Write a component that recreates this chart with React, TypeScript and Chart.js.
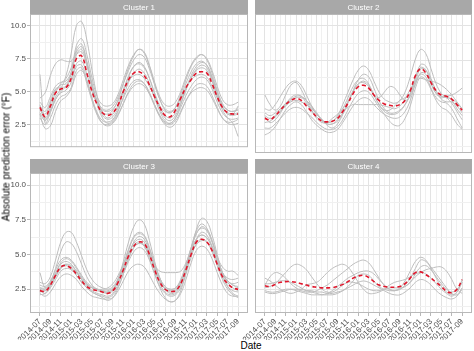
import React, { useEffect, useRef } from 'react';
import { Chart, registerables } from 'chart.js';

Chart.register(...registerables);

// ---------- data ----------
const MONTHS = [
  '2014-07','2014-08','2014-09','2014-10','2014-11','2014-12',
  '2015-01','2015-02','2015-03','2015-04','2015-05','2015-06','2015-07','2015-08','2015-09','2015-10','2015-11','2015-12',
  '2016-01','2016-02','2016-03','2016-04','2016-05','2016-06','2016-07','2016-08','2016-09','2016-10','2016-11','2016-12',
  '2017-01','2017-02','2017-03','2017-04','2017-05','2017-06','2017-07','2017-08','2017-09',
];

const X_TICK_LABELS = [
  '2014-07','2014-09','2014-11','2015-01','2015-03','2015-05','2015-07','2015-09','2015-11',
  '2016-01','2016-03','2016-05','2016-07','2016-09','2016-11','2017-01','2017-03','2017-05','2017-07','2017-09',
];

const Y_TICKS = [2.5, 5.0, 7.5, 10.0];
const Y_MINOR = [1.25, 3.75, 6.25, 8.75];

const C1_MEAN = [3.8,3.1,3.9,4.9,5.2,5.3, 6.0,7.5,7.7,6.4,5.0,4.0,3.4,3.2,3.4,4.0,5.0,5.9, 6.4,6.5,6.2,5.5,4.6,3.8,3.2,3.1,3.6,4.5,5.3,5.9, 6.4,6.5,6.4,5.6,4.6,3.8,3.4,3.3,3.3];
const C1_L1 = [4.0,2.9,3.6,4.6,5.2,6.2, 7.9,10.0,10.3,8.9,6.6,4.6,3.4,3.0,3.3,4.0,5.1,6.2, 6.9,7.1,6.8,6.0,4.9,3.9,3.2,3.0,3.4,4.3,5.2,6.0, 6.6,6.8,6.6,5.8,4.7,3.8,3.3,3.2,3.3];
const C1_L2 = [6.3,2.6,3.4,4.4,5.0,5.4, 6.3,7.8,8.2,7.0,5.3,4.0,3.0,2.6,2.8,3.5,4.6,5.7, 6.4,6.7,6.4,5.6,4.5,3.5,2.8,2.6,3.0,4.0,5.1,6.0, 6.7,7.0,6.8,5.9,4.6,3.6,3.0,2.6,1.6];
const C1_L3 = [4.5,4.9,6.2,7.1,7.4,7.3, 7.3,7.8,8.0,7.0,5.5,4.3,3.7,3.6,3.9,4.6,5.6,6.6, 7.4,7.8,7.6,6.7,5.5,4.4,3.7,3.5,3.8,4.6,5.6,6.5, 7.1,7.3,7.0,6.1,4.9,4.0,3.6,3.5,3.6];
const C1_L4 = [3.3,2.2,2.4,3.5,4.3,4.6, 5.2,6.3,6.6,5.8,4.4,3.3,2.6,2.4,2.6,3.2,4.1,5.0, 5.6,5.8,5.6,4.9,4.0,3.1,2.5,2.3,2.6,3.4,4.3,5.0, 5.5,5.6,5.4,4.7,3.8,3.0,2.6,2.5,2.6];
const C1_L5 = [3.6,3.3,4.1,5.1,5.5,5.6, 6.4,8.2,8.6,7.2,5.4,4.1,3.4,3.3,3.6,4.4,5.6,6.8, 7.7,8.2,7.9,6.9,5.6,4.4,3.6,3.4,3.8,4.8,5.9,6.9, 7.5,7.8,7.4,6.4,5.1,4.1,3.6,3.5,3.7];
const C1_L6 = [3.9,3.5,4.3,5.2,5.3,5.4, 6.0,7.1,7.3,6.3,5.0,4.1,3.6,3.5,3.7,4.3,5.1,5.8, 6.2,6.3,6.0,5.4,4.6,3.9,3.5,3.4,3.8,4.5,5.3,5.9, 6.2,6.3,6.1,5.4,4.5,3.8,3.4,3.3,3.4];
const C1_L7 = [3.4,2.8,3.5,4.4,4.9,5.1, 5.7,6.9,7.0,5.9,4.5,3.4,2.8,2.7,2.9,3.6,4.5,5.3, 5.8,5.9,5.6,4.9,4.0,3.2,2.7,2.6,3.0,3.8,4.7,5.4, 5.9,6.1,5.9,5.2,4.2,3.4,3.0,2.9,3.0];
const C1_L8 = [4.2,3.8,4.6,5.4,5.7,5.8, 6.5,8.5,9.0,7.8,6.0,4.6,4.0,3.9,4.1,4.8,5.9,7.0, 7.8,8.2,8.0,7.0,5.7,4.6,4.0,3.9,4.2,5.0,6.1,7.0, 7.6,7.8,7.5,6.6,5.4,4.4,4.0,4.0,4.2];
const C1_L9 = [3.0,2.5,3.0,4.0,4.6,4.8, 5.3,6.6,6.8,5.6,4.3,3.2,2.6,2.5,2.7,3.3,4.1,4.9, 5.4,5.6,5.4,4.8,3.9,3.1,2.6,2.5,2.8,3.5,4.3,4.9, 5.2,5.3,5.1,4.5,3.7,3.0,2.7,2.7,2.9];
const C1_L10 = [3.7,3.0,3.8,4.9,5.6,6.0, 6.8,8.0,8.4,7.3,5.6,4.2,3.2,2.9,3.1,3.8,5.0,6.1, 6.9,7.2,6.9,6.0,4.8,3.7,3.0,2.8,3.2,4.1,5.2,6.2, 6.9,7.2,7.0,6.1,4.9,3.9,3.3,3.3,3.9];

const C2_MEAN = [3.3,3.2,3.5,3.9,4.3,4.6, 4.75,4.6,4.2,3.8,3.4,3.1,3.05,3.1,3.3,3.8,4.4,5.1, 5.6,5.7,5.5,5.0,4.6,4.35,4.25,4.2,4.3,4.6,5.3,6.4, 6.9,6.6,5.9,5.3,5.0,4.9,4.7,4.3,3.9];
const C2_L1 = [4.0,3.9,4.3,4.9,5.5,5.9, 6.0,5.7,5.0,4.2,3.6,3.2,3.0,3.1,3.5,4.3,5.2,6.1, 6.8,7.1,6.8,6.0,5.2,4.7,4.5,4.4,4.6,5.2,6.3,7.6, 8.3,8.0,6.9,5.8,5.1,4.8,4.4,3.8,3.2];
const C2_L2 = [2.1,2.3,2.7,3.3,3.9,4.3, 4.5,4.3,3.8,3.2,2.8,2.5,2.3,2.3,2.5,3.0,3.6,4.2, 4.6,4.8,4.7,4.3,3.9,3.6,3.4,3.3,3.4,3.8,4.6,5.8, 6.5,6.3,5.5,4.8,4.5,4.4,4.0,3.3,2.6];
const C2_L3 = [3.0,3.1,3.4,3.8,4.2,4.5, 4.6,4.5,4.3,4.0,3.6,3.2,2.9,2.9,3.2,3.7,4.1,4.3, 4.3,4.3,4.3,4.3,4.3,4.2,4.1,4.0,4.2,4.7,5.4,6.0, 6.2,6.1,6.0,5.9,5.7,5.4,5.0,4.5,4.0];
const C2_L4 = [5.0,4.3,3.9,4.2,5.0,5.7, 5.9,5.4,4.6,3.9,3.4,3.1,3.0,3.1,3.4,4.0,4.8,5.6, 6.1,6.2,5.8,5.0,4.3,3.8,3.6,3.6,3.8,4.3,5.1,6.3, 7.0,6.8,5.9,5.1,4.8,4.9,5.0,5.2,5.5];
const C2_L5 = [3.5,3.3,3.5,3.9,4.3,4.6, 4.8,4.8,4.6,4.2,3.7,3.2,2.8,2.6,2.9,3.6,4.5,5.3, 5.8,5.9,5.6,5.0,4.8,5.2,5.6,5.5,5.0,4.6,4.9,5.8, 6.6,6.5,5.8,5.1,4.9,4.9,4.6,4.0,3.5];
const C2_L6 = [2.6,2.6,2.9,3.3,3.7,4.0, 4.1,4.0,3.7,3.4,3.0,2.7,2.5,2.5,2.7,3.2,3.9,4.6, 5.1,5.3,5.2,4.7,4.1,3.6,3.1,2.8,2.8,3.3,4.2,5.5, 6.3,6.1,5.4,4.6,4.1,3.9,3.5,2.9,2.5];
const C2_L7 = [3.4,3.0,3.2,3.7,4.3,4.8, 5.0,4.9,4.4,3.8,3.3,3.0,3.0,3.3,3.6,4.0,4.5,5.2, 5.8,6.0,5.7,5.0,4.3,3.9,3.9,4.2,4.6,4.8,5.1,6.0, 6.9,6.8,6.1,5.3,4.7,4.5,4.5,4.2,3.7];
const C2_L8 = [3.7,3.5,3.7,4.0,4.4,4.7, 4.9,4.9,4.6,4.1,3.6,3.2,2.9,2.9,3.1,3.6,4.4,5.3, 6.1,6.5,6.3,5.5,4.6,4.0,3.7,3.7,3.9,4.3,5.0,6.2, 7.2,7.1,6.2,5.3,4.9,4.8,4.7,4.4,4.0];

const C3_MEAN = [2.4,2.35,2.8,3.5,4.1,4.2, 4.0,3.6,3.1,2.7,2.5,2.4,2.3,2.2,2.4,3.0,3.9,4.9, 5.6,5.9,5.8,5.0,3.9,3.0,2.5,2.35,2.4,2.9,3.9,5.0, 5.9,6.1,5.9,5.3,4.3,3.4,2.9,2.6,2.5];
const C3_L1 = [3.0,2.9,3.4,4.6,5.9,6.6, 6.6,5.9,4.9,3.9,3.2,2.8,2.6,2.5,2.7,3.3,4.3,5.4, 6.3,6.6,6.4,5.5,4.3,3.3,2.7,2.5,2.6,3.1,4.1,5.2, 6.1,6.4,6.2,5.5,4.5,3.6,3.1,2.8,2.7];
const C3_L2 = [2.6,2.5,3.0,4.0,5.2,5.9, 5.8,5.2,4.3,3.4,2.8,2.5,2.3,2.2,2.4,3.2,4.5,5.9, 7.0,7.5,7.2,6.0,4.5,3.3,2.5,2.2,2.3,2.9,4.1,5.5, 6.7,7.2,6.9,6.0,4.8,3.7,3.0,2.6,2.4];
const C3_L3 = [3.7,2.6,2.8,3.4,4.0,4.3, 4.2,3.8,3.3,2.9,2.6,2.5,2.5,2.6,2.9,3.5,4.3,5.1, 5.7,5.9,5.6,4.9,4.2,3.8,3.7,3.7,3.7,3.8,4.4,5.3, 6.1,6.4,6.2,5.6,4.8,4.1,3.8,3.8,3.5];
const C3_L4 = [2.2,2.0,2.3,2.9,3.4,3.6, 3.5,3.2,2.7,2.3,2.0,1.9,1.8,1.8,1.9,2.4,3.1,3.8, 4.2,4.3,4.1,3.5,2.8,2.2,1.8,1.6,1.7,2.2,3.2,4.4, 5.3,5.6,5.4,4.7,3.7,2.8,2.2,2.0,2.0];
const C3_L5 = [2.3,2.4,2.9,3.6,4.3,4.5, 4.3,3.8,3.2,2.7,2.4,2.2,2.1,2.0,2.2,2.9,3.9,5.0, 5.8,6.1,5.9,5.0,3.9,2.9,2.3,2.1,2.2,2.8,3.9,5.1, 6.1,6.6,6.4,5.6,4.5,3.4,2.7,2.4,2.3];
const C3_L6 = [2.5,2.4,2.8,3.5,4.1,4.3, 4.1,3.7,3.2,2.8,2.6,2.5,2.4,2.3,2.5,3.1,4.0,5.0, 5.9,6.3,6.1,5.2,4.1,3.1,2.5,2.3,2.4,3.0,4.1,5.4, 6.5,7.0,6.8,6.0,4.8,3.7,3.1,2.8,2.6];
const C3_L7 = [2.1,2.2,2.7,3.4,4.0,4.2, 4.0,3.5,3.0,2.6,2.3,2.1,1.9,1.7,1.9,2.6,3.6,4.7, 5.5,5.8,5.6,4.7,3.6,2.6,1.9,1.6,1.7,2.4,3.7,5.3, 6.8,7.6,7.4,6.4,5.0,3.6,2.7,2.2,2.0];
const C3_L8 = [2.8,2.7,3.1,3.9,4.6,4.8, 4.6,4.1,3.5,3.0,2.7,2.5,2.4,2.4,2.6,3.2,4.2,5.3, 6.2,6.5,6.3,5.4,4.3,3.3,2.7,2.5,2.6,3.2,4.3,5.5, 6.5,6.9,6.7,5.9,4.8,3.7,3.1,2.9,3.0];
const C3_L9 = [2.4,2.2,2.6,3.2,3.8,4.0, 3.9,3.5,3.0,2.6,2.3,2.1,2.0,1.9,2.1,2.7,3.6,4.5, 5.2,5.5,5.3,4.6,3.6,2.7,2.2,2.0,2.1,2.6,3.6,4.8, 5.8,6.1,5.9,5.2,4.2,3.2,2.5,2.1,1.9];
const C3_L10 = [2.6,2.6,3.0,3.7,4.4,4.7, 4.5,4.0,3.4,2.9,2.6,2.4,2.3,2.3,2.5,3.0,3.8,4.7, 5.5,5.8,5.7,5.0,4.0,3.1,2.6,2.4,2.5,3.1,4.0,5.0, 5.7,6.0,5.9,5.3,4.5,3.7,3.3,3.2,3.3];

const C4_MEAN = [2.75,2.7,2.85,3.0,3.05,3.05, 3.0,2.9,2.8,2.7,2.65,2.6,2.6,2.62,2.7,2.85,3.05,3.3, 3.45,3.5,3.35,3.05,2.8,2.7,2.65,2.65,2.7,2.9,3.3,3.7, 3.75,3.55,3.3,3.0,2.7,2.35,2.25,2.5,3.2];
const C4_L1 = [2.6,2.7,2.9,3.3,3.7,4.1, 4.3,4.2,3.9,3.4,2.9,2.5,2.3,2.3,2.5,2.8,3.0,3.0, 2.9,2.7,2.5,2.4,2.4,2.5,2.6,2.6,2.6,2.7,3.0,3.6, 4.1,4.2,3.9,3.4,2.9,2.5,2.3,2.5,3.0];
const C4_L2 = [3.3,3.1,2.8,2.5,2.3,2.2, 2.3,2.5,2.8,2.9,3.0,3.3,3.7,4.0,4.2,4.3,4.1,3.6, 3.0,2.5,2.2,2.2,2.3,2.5,2.8,3.0,3.1,3.2,3.4,3.6, 3.7,3.6,3.3,2.9,2.5,2.2,2.0,2.3,3.2];
const C4_L3 = [2.8,3.4,3.7,3.6,3.3,2.9, 2.6,2.4,2.3,2.3,2.4,2.6,2.8,3.1,3.4,3.7,4.0,4.3, 4.5,4.6,4.4,3.9,3.3,2.8,2.5,2.4,2.5,2.8,3.3,4.0, 4.6,4.5,4.1,3.6,3.1,2.6,2.2,2.1,2.6];
const C4_L4 = [2.4,2.3,2.3,2.4,2.5,2.5, 2.4,2.3,2.2,2.1,2.1,2.1,2.2,2.4,2.7,3.0,3.3,3.5, 3.7,3.8,3.8,3.6,3.2,2.8,2.5,2.4,2.6,3.1,3.8,4.5, 4.8,4.6,4.0,3.3,2.7,2.3,2.1,2.3,3.0];
const C4_L5 = [2.9,2.9,3.0,3.1,3.1,3.0, 2.8,2.6,2.4,2.3,2.2,2.1,2.1,2.1,2.2,2.4,2.7,3.1, 3.5,3.6,3.5,3.1,2.7,2.5,2.4,2.4,2.5,2.7,3.0,3.4, 3.7,3.9,4.0,4.1,4.1,3.8,3.2,2.5,2.2];
const C4_L6 = [2.3,2.2,2.2,2.3,2.4,2.5, 2.5,2.5,2.4,2.4,2.3,2.3,2.2,2.2,2.3,2.4,2.6,2.8, 3.0,3.1,3.0,2.8,2.6,2.4,2.2,2.1,2.1,2.3,2.6,3.0, 3.2,3.1,2.8,2.4,2.1,1.9,1.8,2.0,2.5];

// ---------- layout / style ----------
const FONT = '"Liberation Sans", Arial, Helvetica, sans-serif';
const GREY_LINE = '#bebebe';
const RED_LINE = '#e0162b';
const GRID_MAJOR = '#e3e3e3';
const GRID_MINOR = '#f0f0f0';
const BORDER = '#b8b8b8';
const STRIP_FILL = '#a8a8a8';
const TEXT_AXIS = '#4d4d4d';
const Y_MIN = 0.79;
const Y_MAX = 10.87;
const X_MIN = -1.9;
const X_MAX = 39.9;

const PANELS = [
  { title: 'Cluster 1', mean: C1_MEAN, lines: [C1_L1, C1_L2, C1_L3, C1_L4, C1_L5, C1_L6, C1_L7, C1_L8, C1_L9, C1_L10],
    left: 0, top: 0, width: 249, height: 153, yLabels: true, xLabels: false, yWidth: 30, xHeight: 0, padRight: 1 },
  { title: 'Cluster 2', mean: C2_MEAN, lines: [C2_L1, C2_L2, C2_L3, C2_L4, C2_L5, C2_L6, C2_L7, C2_L8],
    left: 235, top: 0, width: 239, height: 153, yLabels: false, xLabels: false, yWidth: 20, xHeight: 0, padRight: 2 },
  { title: 'Cluster 3', mean: C3_MEAN, lines: [C3_L1, C3_L2, C3_L3, C3_L4, C3_L5, C3_L6, C3_L7, C3_L8, C3_L9, C3_L10],
    left: 0, top: 159, width: 249, height: 181, yLabels: true, xLabels: true, yWidth: 30, xHeight: 27, padRight: 1 },
  { title: 'Cluster 4', mean: C4_MEAN, lines: [C4_L1, C4_L2, C4_L3, C4_L4, C4_L5, C4_L6],
    left: 235, top: 159, width: 239, height: 181, yLabels: false, xLabels: true, yWidth: 20, xHeight: 27, padRight: 2 },
];
const STRIP_H = 14;

const panelPlugin = {
  id: 'panelDecor',
  beforeDraw(chart: any, _args: any, opts: any) {
    const { ctx, chartArea } = chart;
    const { left, right, top } = chartArea;
    ctx.save();
    ctx.fillStyle = STRIP_FILL;
    ctx.fillRect(left, top - STRIP_H, right - left, STRIP_H);
    ctx.fillStyle = '#ffffff';
    ctx.font = `8px ${FONT}`;
    ctx.textAlign = 'center';
    ctx.textBaseline = 'middle';
    ctx.fillText(opts.text, (left + right) / 2, top - STRIP_H / 2 + 0.5);
    ctx.restore();
  },
  afterDraw(chart: any) {
    const { ctx, chartArea } = chart;
    const { left, right, top, bottom } = chartArea;
    ctx.save();
    ctx.strokeStyle = BORDER;
    ctx.lineWidth = 1;
    ctx.strokeRect(left + 0.5, top + 0.5, right - left - 1, bottom - top - 1);
    ctx.restore();
  },
};

function Panel({ cfg }: { cfg: any }) {
  const ref = useRef<HTMLCanvasElement | null>(null);
  useEffect(() => {
    if (!ref.current) return;
    const toPts = (arr: number[]) => arr.map((v, i) => ({ x: i, y: v }));
    const datasets: any[] = [
      { data: toPts(cfg.mean), borderColor: RED_LINE, borderWidth: 1.6, borderDash: [4, 3], pointRadius: 0, tension: 0.4, fill: false },
      ...cfg.lines.map((l: number[]) => ({ data: toPts(l), borderColor: GREY_LINE, borderWidth: 1, pointRadius: 0, tension: 0.4, fill: false })),
    ];
    const chart = new Chart(ref.current, {
      type: 'line',
      data: { datasets },
      options: {
        animation: false,
        responsive: false,
        maintainAspectRatio: false,
        devicePixelRatio: 1,
        events: [],
        layout: { padding: { top: STRIP_H, right: cfg.padRight, left: 0, bottom: 0 } },
        plugins: {
          legend: { display: false },
          tooltip: { enabled: false },
          panelDecor: { text: cfg.title },
        } as any,
        scales: {
          x: {
            type: 'linear',
            min: X_MIN,
            max: X_MAX,
            afterBuildTicks: (s: any) => { s.ticks = MONTHS.map((_, i) => ({ value: i })); },
            afterFit: (s: any) => { s.height = cfg.xHeight; },
            border: { display: false },
            grid: {
              color: (c: any) => (c.tick && c.tick.value % 2 === 0 ? GRID_MAJOR : GRID_MINOR),
              lineWidth: 1,
              drawTicks: cfg.xLabels,
              tickLength: 3,
              tickColor: (c: any) => (c.tick && c.tick.value % 2 === 0 ? BORDER : 'rgba(0,0,0,0)'),
            },
            ticks: {
              display: cfg.xLabels,
              autoSkip: false,
              minRotation: 45,
              maxRotation: 45,
              padding: 1,
              color: TEXT_AXIS,
              font: { family: FONT, size: 8 },
              callback: (v: any) => {
                const m = MONTHS[v as number];
                return X_TICK_LABELS.includes(m) ? m : '';
              },
            },
          },
          y: {
            type: 'linear',
            min: Y_MIN,
            max: Y_MAX,
            afterBuildTicks: (s: any) => {
              s.ticks = [...Y_MINOR, ...Y_TICKS].sort((a, b) => a - b).map((v) => ({ value: v }));
            },
            afterFit: (s: any) => { s.width = cfg.yWidth; },
            border: { display: false },
            grid: {
              color: (c: any) => (c.tick && Y_TICKS.includes(c.tick.value) ? GRID_MAJOR : GRID_MINOR),
              lineWidth: 1,
              drawTicks: cfg.yLabels,
              tickLength: 3,
              tickColor: (c: any) => (c.tick && Y_TICKS.includes(c.tick.value) ? BORDER : 'rgba(0,0,0,0)'),
            },
            ticks: {
              display: cfg.yLabels,
              padding: 1,
              color: TEXT_AXIS,
              font: { family: FONT, size: 8 },
              callback: (v: any) => (Y_TICKS.includes(v) ? Number(v).toFixed(1) : ''),
            },
          },
        },
      } as any,
      plugins: [panelPlugin],
    });
    return () => chart.destroy();
  }, [cfg]);
  return (
    <canvas
      ref={ref}
      width={cfg.width}
      height={cfg.height}
      style={{ position: 'absolute', left: cfg.left, top: cfg.top, width: cfg.width, height: cfg.height, display: 'block' }}
    />
  );
}

export default function App() {
  return (
    <div style={{ position: 'absolute', left: 0, top: 0, width: 474, height: 351, background: '#ffffff', overflow: 'hidden', fontFamily: FONT }}>
      {PANELS.map((p) => (
        <Panel key={p.title} cfg={p} />
      ))}
      <div
        style={{
          position: 'absolute', left: 6.5 - 156.5, top: 156.5 - 6, width: 313, height: 12, lineHeight: '12px',
          fontSize: 10, textAlign: 'center', transform: 'rotate(-90deg)', color: '#000', whiteSpace: 'nowrap',
        }}
      >
        Absolute prediction error (°F)
      </div>
      <div
        style={{
          position: 'absolute', left: 30, width: 442, top: 340, height: 12, lineHeight: '12px',
          fontSize: 10, textAlign: 'center', color: '#000',
        }}
      >
        Date
      </div>
    </div>
  );
}
